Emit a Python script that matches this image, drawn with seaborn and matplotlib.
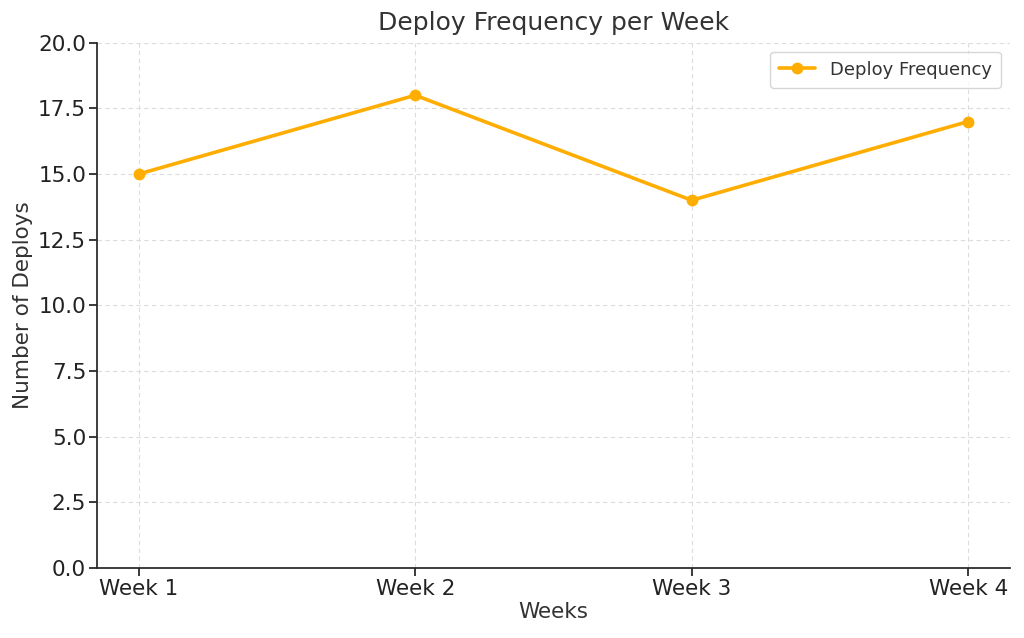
import pandas as pd
import seaborn as sns
import matplotlib.pyplot as plt

# --- 데이터 ---
weeks = ["Week 1", "Week 2", "Week 3", "Week 4"]
deploys = [15, 18, 14, 17]
series_name = "Deploy Frequency"

df = pd.DataFrame({"Weeks": weeks, "Deploys": deploys})

sns.set_theme(style="ticks")
plt.rcParams['font.family'] = ['DejaVu Sans']

fig, ax = plt.subplots(figsize=(10.24, 6.38), dpi=100)
fig.subplots_adjust(left=0.095, right=0.986, top=0.933, bottom=0.11)

sns.lineplot(data=df, x="Weeks", y="Deploys", marker="o", color="#FFAD00",
             linewidth=2.6, markersize=8.5, markeredgewidth=0, label=series_name, ax=ax)

ax.set_ylim(0, 20)
ax.set_title("Deploy Frequency per Week", fontsize=18, color="#333333", pad=9)
ax.set_xlabel("Weeks", fontsize=15.5, color="#333333", labelpad=2)
ax.set_ylabel("Number of Deploys", fontsize=15.5, color="#333333")
ax.tick_params(labelsize=15.5, colors="#222222", pad=2)
ax.grid(True, linestyle=(0, (4, 3)), color="#dcdcdc", linewidth=0.8)
sns.despine(ax=ax)

leg = ax.legend(loc="upper right", prop={"family": "DejaVu Sans", "size": 13},
                frameon=True, borderpad=0.5)
for t in leg.get_texts():
    t.set_color("#333333")

plt.savefig("out.png")
